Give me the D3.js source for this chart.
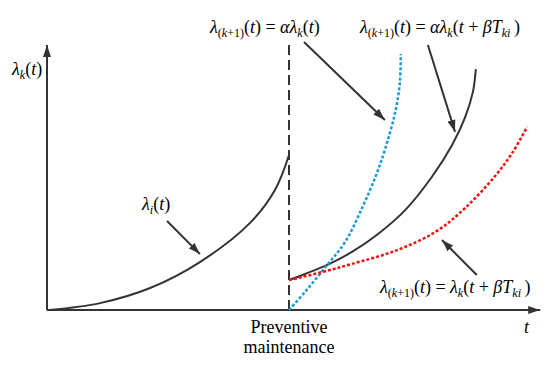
<!DOCTYPE html>
<html>
<head>
<meta charset="utf-8">
<script src="https://cdn.jsdelivr.net/npm/d3@7"></script>
<style>
  body { margin: 0; background: #fff; }
</style>
</head>
<body>
<script>
// curve data (t, lambda) in chart units
const baseT = [0.6, 10.95, 21.3, 31.6, 41.9, 47.1, 50];
const baseV = [0, 2.6, 8.3, 18.1, 32.8, 45.3, 58.5];

const blueT = [50, 53.3, 57.9, 61.6, 65.1, 68.0, 69.8, 71.9, 72.9, 73.1];
const blueV = [0, 6.8, 17.0, 25.7, 38.5, 50.9, 60.4, 74.3, 85.7, 96.6];

const blackT = [50, 53.3, 57.9, 63.0, 68.4, 74.0, 79.5, 83.7, 86.4, 88.0, 88.6];
const blackV = [11.3, 13.6, 17.0, 21.9, 28.7, 37.7, 50.2, 62.3, 72.8, 82.3, 90.9];

const redT = [50, 56.8, 63.0, 71.9, 80.2, 86.4, 92.6, 96.1, 99.2];
const redV = [11.3, 14.3, 17.4, 22.3, 29.4, 38.5, 50.6, 59.2, 69.1];

const pmT = 50; // preventive maintenance time

// annotation arrows [from, to]
const arrows = [
  [[24.8, 33.6], [31.6, 21.1]],
  [[53.1, 101.1], [69.8, 71.7]],
  [[78.7, 100], [84.3, 67.2]],
  [[88.8, 13.2], [81.6, 26.4]]
];

const width = 550, height = 365;
const font = "'Liberation Serif'";
const x = d3.scaleLinear().domain([0, 100]).range([47, 531]);
const y = d3.scaleLinear().domain([0, 100]).range([310, 45]);

const svg = d3.select('body').append('svg')
  .attr('width', width)
  .attr('height', height);

const defs = svg.append('defs');
defs.append('marker')
  .attr('id', 'head')
  .attr('viewBox', '0 0 12 8')
  .attr('refX', 12).attr('refY', 4)
  .attr('markerWidth', 12).attr('markerHeight', 8)
  .attr('markerUnits', 'userSpaceOnUse')
  .attr('orient', 'auto')
  .append('path')
  .attr('d', 'M0,0 L12,4 L0,8 Z')
  .attr('fill', '#333');

const line = d3.line()
  .x(d => x(d[0]))
  .y(d => y(d[1]))
  .curve(d3.curveCatmullRom.alpha(0.5));

const zip = (a, b) => a.map((v, i) => [v, b[i]]);

// axes
svg.append('line')
  .attr('x1', x(0)).attr('y1', y(0))
  .attr('x2', x(0)).attr('y2', y(100))
  .attr('stroke', '#333').attr('stroke-width', 2)
  .attr('marker-end', 'url(#head)');
svg.append('line')
  .attr('x1', x(0)).attr('y1', y(0))
  .attr('x2', x(101.9)).attr('y2', y(0))
  .attr('stroke', '#333').attr('stroke-width', 2)
  .attr('marker-end', 'url(#head)');

// preventive maintenance line
svg.append('line')
  .attr('x1', x(pmT)).attr('y1', y(0))
  .attr('x2', x(pmT)).attr('y2', y(100))
  .attr('stroke', '#333').attr('stroke-width', 2)
  .attr('stroke-dasharray', '10,5');

// curves
svg.append('path')
  .attr('d', line(zip(baseT, baseV)))
  .attr('fill', 'none').attr('stroke', '#333').attr('stroke-width', 2);

svg.append('path')
  .attr('d', line(zip(blackT, blackV)))
  .attr('fill', 'none').attr('stroke', '#333').attr('stroke-width', 2);

svg.append('path')
  .attr('d', line(zip(blueT, blueV)))
  .attr('fill', 'none').attr('stroke', '#1b9ad8').attr('stroke-width', 2.5)
  .attr('stroke-dasharray', '3,2');

svg.append('path')
  .attr('d', line(zip(redT, redV)))
  .attr('fill', 'none').attr('stroke', '#f01010').attr('stroke-width', 2.5)
  .attr('stroke-dasharray', '3,2');

// annotation arrows
svg.selectAll('line.ann')
  .data(arrows)
  .enter().append('line')
  .attr('class', 'ann')
  .attr('x1', d => x(d[0][0])).attr('y1', d => y(d[0][1]))
  .attr('x2', d => x(d[1][0])).attr('y2', d => y(d[1][1]))
  .attr('stroke', '#333').attr('stroke-width', 2)
  .attr('marker-end', 'url(#head)');

// math labels: segments [text, italic, sub]
function mathLabel(px, py, segs) {
  const t = svg.append('text')
    .attr('x', px).attr('y', py)
    .style('font-family', font)
    .style('font-size', '18px');
  let shift = 0;
  segs.forEach(s => {
    const target = s[2] ? 4 : 0;
    const ts = t.append('tspan')
      .attr('dy', target - shift)
      .style('font-family', font)
      .style('font-size', s[2] ? '12px' : '18px')
      .text(s[0]);
    if (s[1]) ts.style('font-style', 'italic');
    shift = target;
  });
  return t;
}

const sp = '\u2009';
mathLabel(12, 75, [['λ', 1], ['k', 1, 1], ['(', 0], ['t', 1], [')', 0]]);
mathLabel(142, 210, [['λ', 1], ['i', 1, 1], ['(', 0], ['t', 1], [')', 0]]);
mathLabel(210, 33, [['λ', 1], ['(', 0, 1], ['k', 1, 1], ['+1)', 0, 1], ['(', 0], ['t', 1], [') = ', 0],
  ['αλ', 1], ['k', 1, 1], ['(', 0], ['t', 1], [')', 0]]);
mathLabel(360, 33, [['λ', 1], ['(', 0, 1], ['k', 1, 1], ['+1)', 0, 1], ['(', 0], ['t', 1], [') = ', 0],
  ['αλ', 1], ['k', 1, 1], ['(', 0], ['t', 1], [' + ', 0], ['βT', 1], ['ki', 1, 1], [sp + ')', 0]]);
mathLabel(380, 293, [['λ', 1], ['(', 0, 1], ['k', 1, 1], ['+1)', 0, 1], ['(', 0], ['t', 1], [') = ', 0],
  ['λ', 1], ['k', 1, 1], ['(', 0], ['t', 1], [' + ', 0], ['βT', 1], ['ki', 1, 1], [sp + ')', 0]]);

// axis labels
function plainText(px, py, str, anchor, italic) {
  const t = svg.append('text')
    .attr('x', px).attr('y', py)
    .attr('text-anchor', anchor)
    .style('font-family', font)
    .style('font-size', '18px')
    .text(str);
  if (italic) t.style('font-style', 'italic');
  return t;
}

plainText(524, 333, 't', 'start', true);
plainText(x(pmT), 333, 'Preventive', 'middle', false);
plainText(x(pmT), 353, 'maintenance', 'middle', false);
</script>
</body>
</html>
